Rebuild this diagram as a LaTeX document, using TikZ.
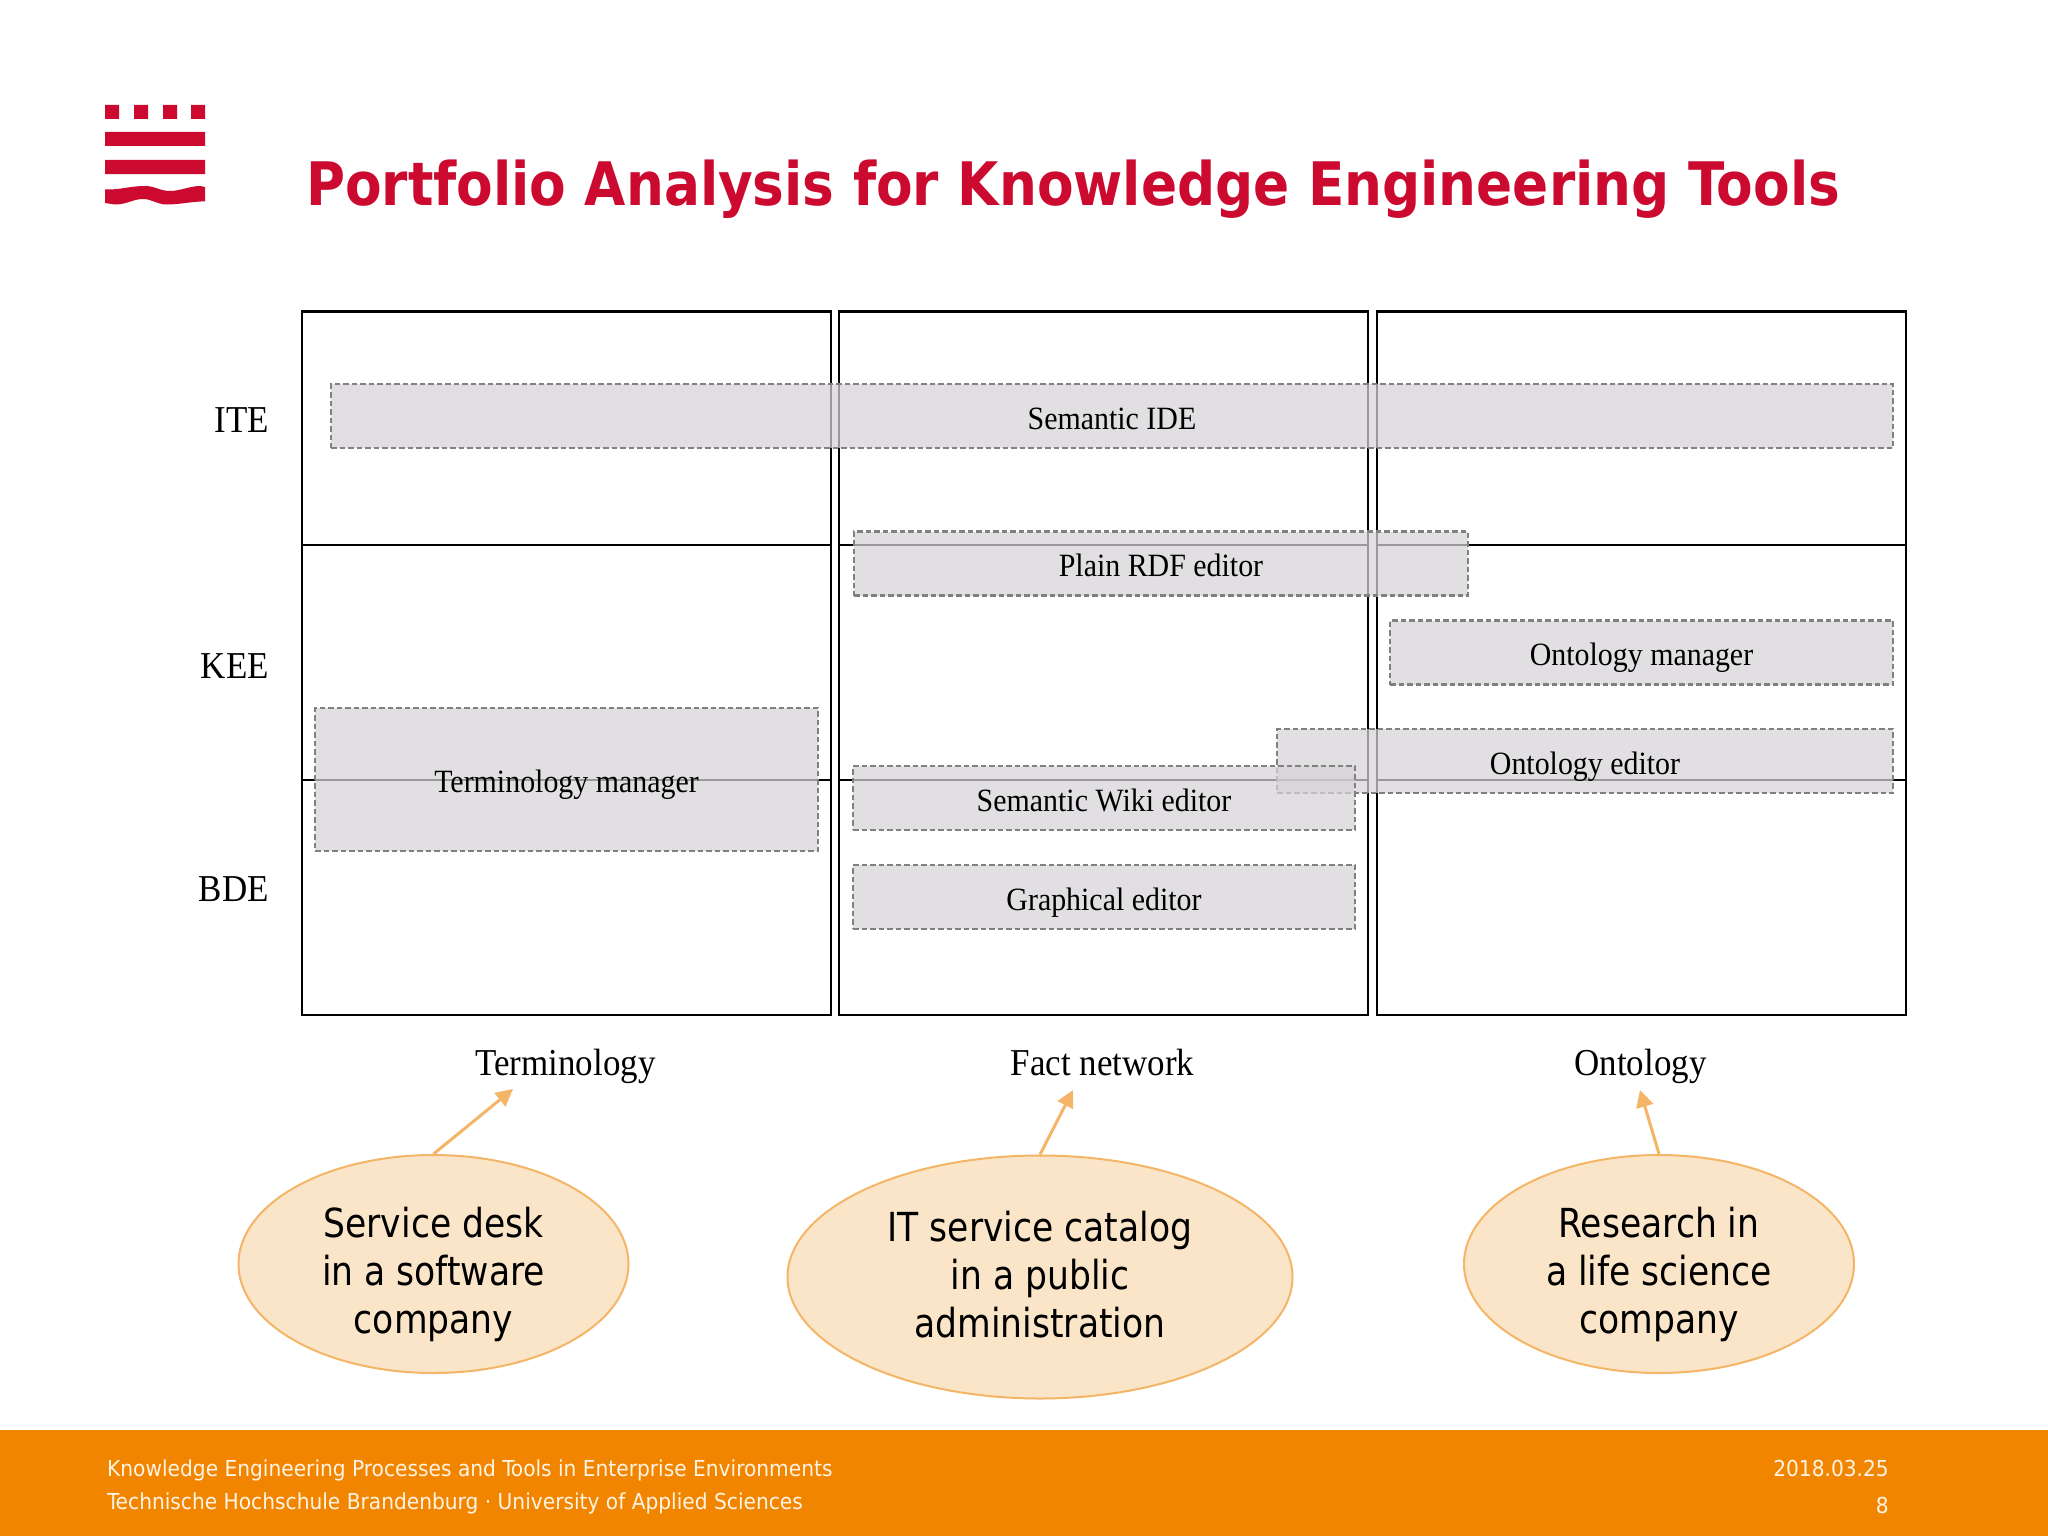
\documentclass[tikz,border=0pt]{standalone}
\usepackage{fontspec}
\setmainfont{Liberation Serif}
\newfontfamily\slimserif[FakeStretch=.92]{Liberation Serif}
\newfontfamily\tah[FakeStretch=.96]{DejaVu Sans Condensed}
\newfontfamily\tahtitle[FakeStretch=.987]{DejaVu Sans Condensed}
\newfontfamily\tahfoot[FakeStretch=1.02]{DejaVu Sans Condensed}
\usetikzlibrary{shapes.geometric,arrows.meta}
\definecolor{thbred}{HTML}{CC0A2F}
\definecolor{footer}{HTML}{F18500}
\definecolor{barfill}{HTML}{D6D3D8}
\definecolor{barline}{HTML}{808080}
\definecolor{ellfill}{HTML}{FBE5C9}
\definecolor{ellline}{HTML}{F4B567}
\definecolor{footext}{HTML}{FFF3E3}
\tikzset{
  x=1pt,y=-1pt,
  cell/.style={draw=black,line width=2.8pt},
  barbox/.style={draw=barline,line width=2.6pt,dash pattern=on 5.5pt off 3pt,fill=barfill,fill opacity=.72,draw opacity=1,text opacity=1,
    inner sep=0pt,text height=26pt,text depth=0pt,font=\slimserif\fontsize{32.5}{38}\selectfont,text=black},
  axis/.style={font=\slimserif\fontsize{38}{44}\selectfont,text=black,inner sep=0pt},
  usecase/.style={ellipse,draw=ellline,line width=2pt,fill=ellfill,inner sep=0pt},
  usetext/.style={align=center,inner sep=0pt,font=\tah\fontsize{40}{48}\selectfont,text=black},
  ptr/.style={draw=ellline,line width=3pt,-{Triangle[length=17pt,width=17pt]}},
  foot/.style={font=\tahfoot\fontsize{22}{26}\selectfont,text=footext,inner sep=0pt},
}
\begin{document}
\begin{tikzpicture}
\useasboundingbox (0,0) rectangle (2048,1536);
\fill[white] (0,0) rectangle (2048,1536);
% logo
\fill[thbred] (105,105) rectangle (119,119) (134,105) rectangle (148,119) (163,105) rectangle (177,119) (191,105) rectangle (205,119);
\fill[thbred] (105,132) rectangle (205,146) (105,160) rectangle (205,174);
\fill[thbred] (105,189.5) .. controls (120,190) and (130,186) .. (145,186) .. controls (155,186) and (160,191) .. (170,191) .. controls (180,191) and (190,186) .. (200,186) -- (205,187) -- (205,201.5) .. controls (195,201) and (180,204.5) .. (167,204.5) .. controls (157,204.5) and (152,199) .. (143,199) .. controls (133,199) and (127,204.5) .. (115,204.5) -- (105,203) -- cycle;
% title
\node[anchor=base west,inner sep=0pt,text=thbred,font=\tahtitle\bfseries\fontsize{60}{70}\selectfont] (title) at (306,205) {Portfolio Analysis for Knowledge Engineering Tools};
% grid
\draw[cell] (302,311.5) rectangle (831,1015);
\draw[cell] (839,311.5) rectangle (1368,1015);
\draw[cell] (1377,311.5) rectangle (1906,1015);
\foreach \y in {545,780}{
  \draw[cell] (302,\y) -- (831,\y) (839,\y) -- (1368,\y) (1377,\y) -- (1906,\y);
}
% bars
\node[barbox,minimum width=1562pt,minimum height=64pt] (ide) at (1112,416) {Semantic IDE};
\node[barbox,minimum width=614pt,minimum height=64pt] (rdf) at (1161,563.5) {Plain RDF editor};
\node[barbox,minimum width=503pt,minimum height=64pt] (omgr) at (1641.5,652.5) {Ontology manager};
\node[barbox,minimum width=616pt,minimum height=64pt] (oed) at (1585,761) {Ontology editor};
\node[barbox,minimum width=502pt,minimum height=64pt] (wiki) at (1104,798) {Semantic Wiki editor};
\node[barbox,minimum width=502pt,minimum height=64pt] (graph) at (1104,897) {Graphical editor};
\node[barbox,minimum width=503pt,minimum height=143pt] (tmgr) at (566.5,779.5) {Terminology manager};
% row labels
\node[axis,anchor=base east] (ite) at (269,432.5) {ITE};
\node[axis,anchor=base east] (kee) at (269,678.5) {KEE};
\node[axis,anchor=base east] (bde) at (269,901.5) {BDE};
% column labels
\node[axis,anchor=base] (term) at (565.5,1075) {Terminology};
\node[axis,anchor=base] (fact) at (1102.5,1075) {Fact network};
\node[axis,anchor=base] (onto) at (1640.5,1075) {Ontology};
% ellipses
\node[usecase,minimum width=390pt,minimum height=218pt] (e1) at (433.5,1264) {};
\node[usecase,minimum width=505pt,minimum height=243pt] (e2) at (1040,1277) {};
\node[usecase,minimum width=390pt,minimum height=218pt] (e3) at (1659,1264) {};
\node[usetext] (e1t) at (433.5,1274) {Service desk\\in a software\\company};
\node[usetext] (e2t) at (1040,1274.5) {IT service catalog\\in a public\\administration};
\node[usetext] (e3t) at (1659,1274) {Research in\\a life science\\company};
\coordinate (t1) at (513,1089);
\coordinate (t2) at (1073,1090);
\coordinate (t3) at (1640,1090);
\draw[ptr] (e1.north) -- (t1);
\draw[ptr] (e2.north) -- (t2);
\draw[ptr] (e3.north) -- (t3);
% footer
\fill[footer] (0,1430) rectangle (2048,1536);
\node[foot,anchor=base west] (f1) at (107,1476) {Knowledge Engineering Processes and Tools in Enterprise Environments};
\node[foot,anchor=base west] (f2) at (107,1509) {Technische Hochschule Brandenburg · University of Applied Sciences};
\node[foot,anchor=base east] (f3) at (1889,1476) {2018.03.25};
\node[foot,anchor=base east] (f4) at (1889,1513) {8};
\end{tikzpicture}
\end{document}
